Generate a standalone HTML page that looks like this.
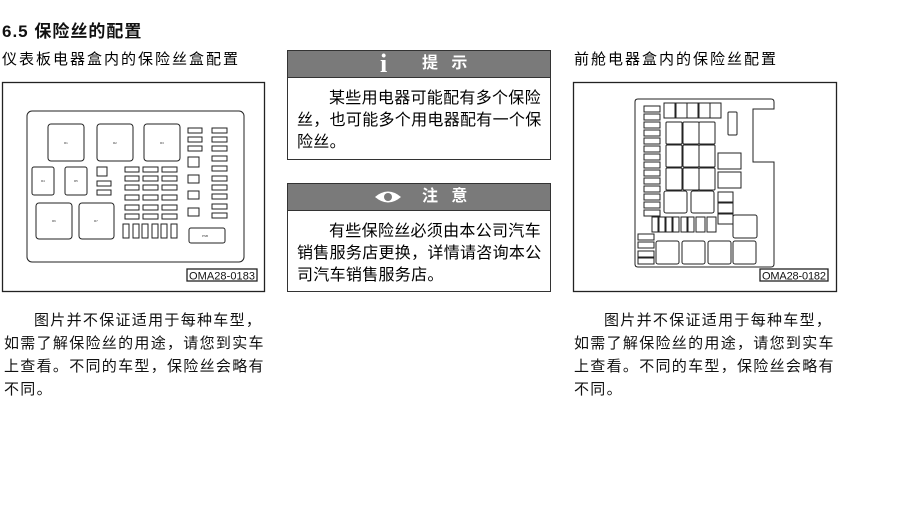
<!DOCTYPE html>
<html><head><meta charset="utf-8"><style>
body{margin:0;width:920px;height:517px;background:#fff;position:relative;overflow:hidden;font-family:"Liberation Sans","Noto Sans CJK SC",sans-serif;color:#111}
.a{position:absolute;white-space:nowrap}
.p{position:absolute;font-size:15px;letter-spacing:1.3px;line-height:23px;width:270px;white-space:normal}
.hd{position:absolute;left:287px;width:264px;height:28px;background:#7a7a7a;color:#fff;font-size:16px;font-weight:bold;box-sizing:border-box;border:1px solid #333;line-height:26px}
.bd{position:absolute;left:287px;width:264px;border:1.5px solid #333;border-top:none;box-sizing:border-box;font-size:16px;line-height:22px;padding:10px 8px 0 9px;letter-spacing:0.3px;color:#000}
</style></head><body>
<div class="a" style="left:2px;top:17px;font-size:17px;letter-spacing:1px;font-weight:bold">6.5 保险丝的配置</div>
<div class="a" style="left:2px;top:48px;font-size:15px;letter-spacing:2px;color:#000">仪表板电器盒内的保险丝盒配置</div>
<div class="a" style="left:574px;top:48px;font-size:15px;letter-spacing:2px;color:#000">前舱电器盒内的保险丝配置</div>

<div class="hd" style="top:50px"><span class="a" style="left:92px;top:0;font-size:26px;line-height:26px;font-family:'Liberation Serif',serif">i</span><span class="a" style="left:134px;top:0">提&nbsp;&nbsp;&nbsp;示</span></div>
<div class="bd" style="top:78px;height:82px"><span style="padding-left:32px">某些用电器可能配有多个保险</span><br>丝，也可能多个用电器配有一个保<br>险丝。</div>
<div class="hd" style="top:183px"><svg class="a" style="left:85px;top:5px" width="30" height="16"><path d="M2 8Q15 -3 28 8Q15 19 2 8Z" fill="#fff"/><circle cx="15" cy="8" r="4" fill="#7a7a7a"/></svg><span class="a" style="left:134px;top:0">注&nbsp;&nbsp;&nbsp;意</span></div>
<div class="bd" style="top:211px;height:81px"><span style="padding-left:32px">有些保险丝必须由本公司汽车</span><br>销售服务店更换，详情请咨询本公<br>司汽车销售服务店。</div>

<div class="p" style="left:4px;top:309px"><span style="padding-left:30px">图片并不保证适用于每种车型，</span>如需了解保险丝的用途，请您到实车上查看。不同的车型，保险丝会略有不同。</div>
<div class="p" style="left:574px;top:309px"><span style="padding-left:30px">图片并不保证适用于每种车型，</span>如需了解保险丝的用途，请您到实车上查看。不同的车型，保险丝会略有不同。</div>

<svg class="a" style="left:0;top:0" width="920" height="517">
<g fill="none" stroke="#222" stroke-width="1">
<rect x="2.5" y="82.5" width="262" height="209" stroke-width="1.3"/>
<rect x="27" y="111" width="217" height="151" rx="5"/>
<rect x="48" y="124" width="36" height="37" rx="3"/><rect x="97" y="124" width="36" height="37" rx="3"/><rect x="144" y="124" width="36" height="37" rx="3"/>
<rect x="32" y="167" width="22" height="28" rx="2"/><rect x="65" y="167" width="22" height="28" rx="2"/>
<rect x="36" y="203" width="36" height="36" rx="3"/><rect x="79" y="203" width="35" height="36" rx="3"/>
<rect x="97" y="167" width="10" height="9"/><rect x="97" y="181" width="14" height="5"/><rect x="97" y="190" width="14" height="5"/>
<g id="sf"><rect x="125" y="167" width="14" height="5"/><rect x="143" y="167" width="15" height="5"/><rect x="162" y="167" width="15" height="5"/></g>
<use href="#sf" y="9"/><use href="#sf" y="18"/><use href="#sf" y="28"/><use href="#sf" y="38"/><use href="#sf" y="47"/>
<rect x="123" y="224" width="6" height="14"/><rect x="133" y="224" width="6" height="14"/><rect x="142" y="224" width="6" height="14"/><rect x="152" y="224" width="6" height="14"/><rect x="161" y="224" width="6" height="14"/><rect x="171" y="224" width="6" height="14"/>
<rect x="188" y="128" width="14" height="5"/><rect x="188" y="137" width="14" height="5"/><rect x="188" y="146" width="14" height="5"/>
<rect x="188" y="157" width="11" height="10"/><rect x="188" y="175" width="11" height="8"/><rect x="188" y="191" width="11" height="8"/><rect x="188" y="208" width="11" height="8"/>
<g id="rc"><rect x="212" y="128" width="15" height="5"/></g>
<use href="#rc" y="9"/><use href="#rc" y="18"/><use href="#rc" y="28"/><use href="#rc" y="38"/><use href="#rc" y="48"/><use href="#rc" y="57"/><use href="#rc" y="66"/><use href="#rc" y="76"/><use href="#rc" y="85"/>
<rect x="189" y="228" width="36" height="15" rx="2"/>
<rect x="187" y="269" width="70" height="12" stroke-width="1.3"/>

<rect x="573.5" y="82.5" width="263" height="209" stroke-width="1.3"/>
<path d="M638 99H771Q774 99 774 102V109H753V162H774V264Q774 267 771 267H638Q635 267 635 264V102Q635 99 638 99Z"/>
<g id="lc"><rect x="644" y="106" width="16" height="6"/></g>
<use href="#lc" y="8"/><use href="#lc" y="16"/><use href="#lc" y="24"/><use href="#lc" y="32"/><use href="#lc" y="40"/><use href="#lc" y="48"/><use href="#lc" y="56"/><use href="#lc" y="64"/><use href="#lc" y="72"/><use href="#lc" y="80"/><use href="#lc" y="88"/><use href="#lc" y="96"/><use href="#lc" y="104"/>
<rect x="664" y="103" width="11" height="15"/><rect x="676" y="103" width="11" height="15"/><rect x="687" y="103" width="11" height="15"/><rect x="699" y="103" width="11" height="15"/><rect x="710" y="103" width="11" height="15"/>
<rect x="728" y="112" width="9" height="23" rx="1"/>
<g id="gr"><rect x="666" y="122" width="16" height="22" rx="1"/><rect x="683" y="122" width="16" height="22" rx="1"/><rect x="699" y="122" width="16" height="22" rx="1"/></g>
<use href="#gr" y="23"/><use href="#gr" y="46"/>
<rect x="718" y="153" width="23" height="16"/><rect x="718" y="172" width="23" height="16"/>
<rect x="664" y="191" width="23" height="22" rx="2"/><rect x="691" y="191" width="23" height="22" rx="2"/>
<rect x="718" y="192" width="15" height="10"/><rect x="718" y="203" width="15" height="10"/><rect x="718" y="214" width="15" height="10"/>
<rect x="652" y="217" width="6" height="15"/><rect x="659" y="217" width="6" height="15"/><rect x="666" y="217" width="6" height="15"/><rect x="673" y="217" width="6" height="15"/><rect x="681" y="217" width="6" height="15"/><rect x="688" y="217" width="6" height="15"/><rect x="696" y="217" width="9" height="15"/><rect x="707" y="217" width="9" height="15"/>
<rect x="733" y="215" width="24" height="23" rx="2"/>
<rect x="638" y="234" width="16" height="6"/><rect x="638" y="242" width="16" height="6"/><rect x="638" y="251" width="16" height="6"/><rect x="638" y="258" width="16" height="6"/>
<rect x="656" y="241" width="23" height="23" rx="2"/><rect x="682" y="241" width="23" height="23" rx="2"/><rect x="708" y="241" width="23" height="23" rx="2"/><rect x="733" y="241" width="23" height="23" rx="2"/>
<rect x="760" y="269" width="68" height="12" stroke-width="1.3"/>
</g>
<g font-family="Liberation Sans" font-size="11" fill="#111"><text x="189" y="279.5" textLength="66">OMA28-0183</text><text x="762" y="279.5" textLength="64">OMA28-0182</text></g>
<g font-family="Liberation Sans" font-size="3" fill="#333"><text x="64" y="144">R1</text><text x="113" y="144">R2</text><text x="160" y="144">R3</text><text x="41" y="182">R4</text><text x="74" y="182">R5</text><text x="52" y="222">R6</text><text x="94" y="222">R7</text><text x="202" y="237">PSB</text></g>
</svg>
</body></html>
